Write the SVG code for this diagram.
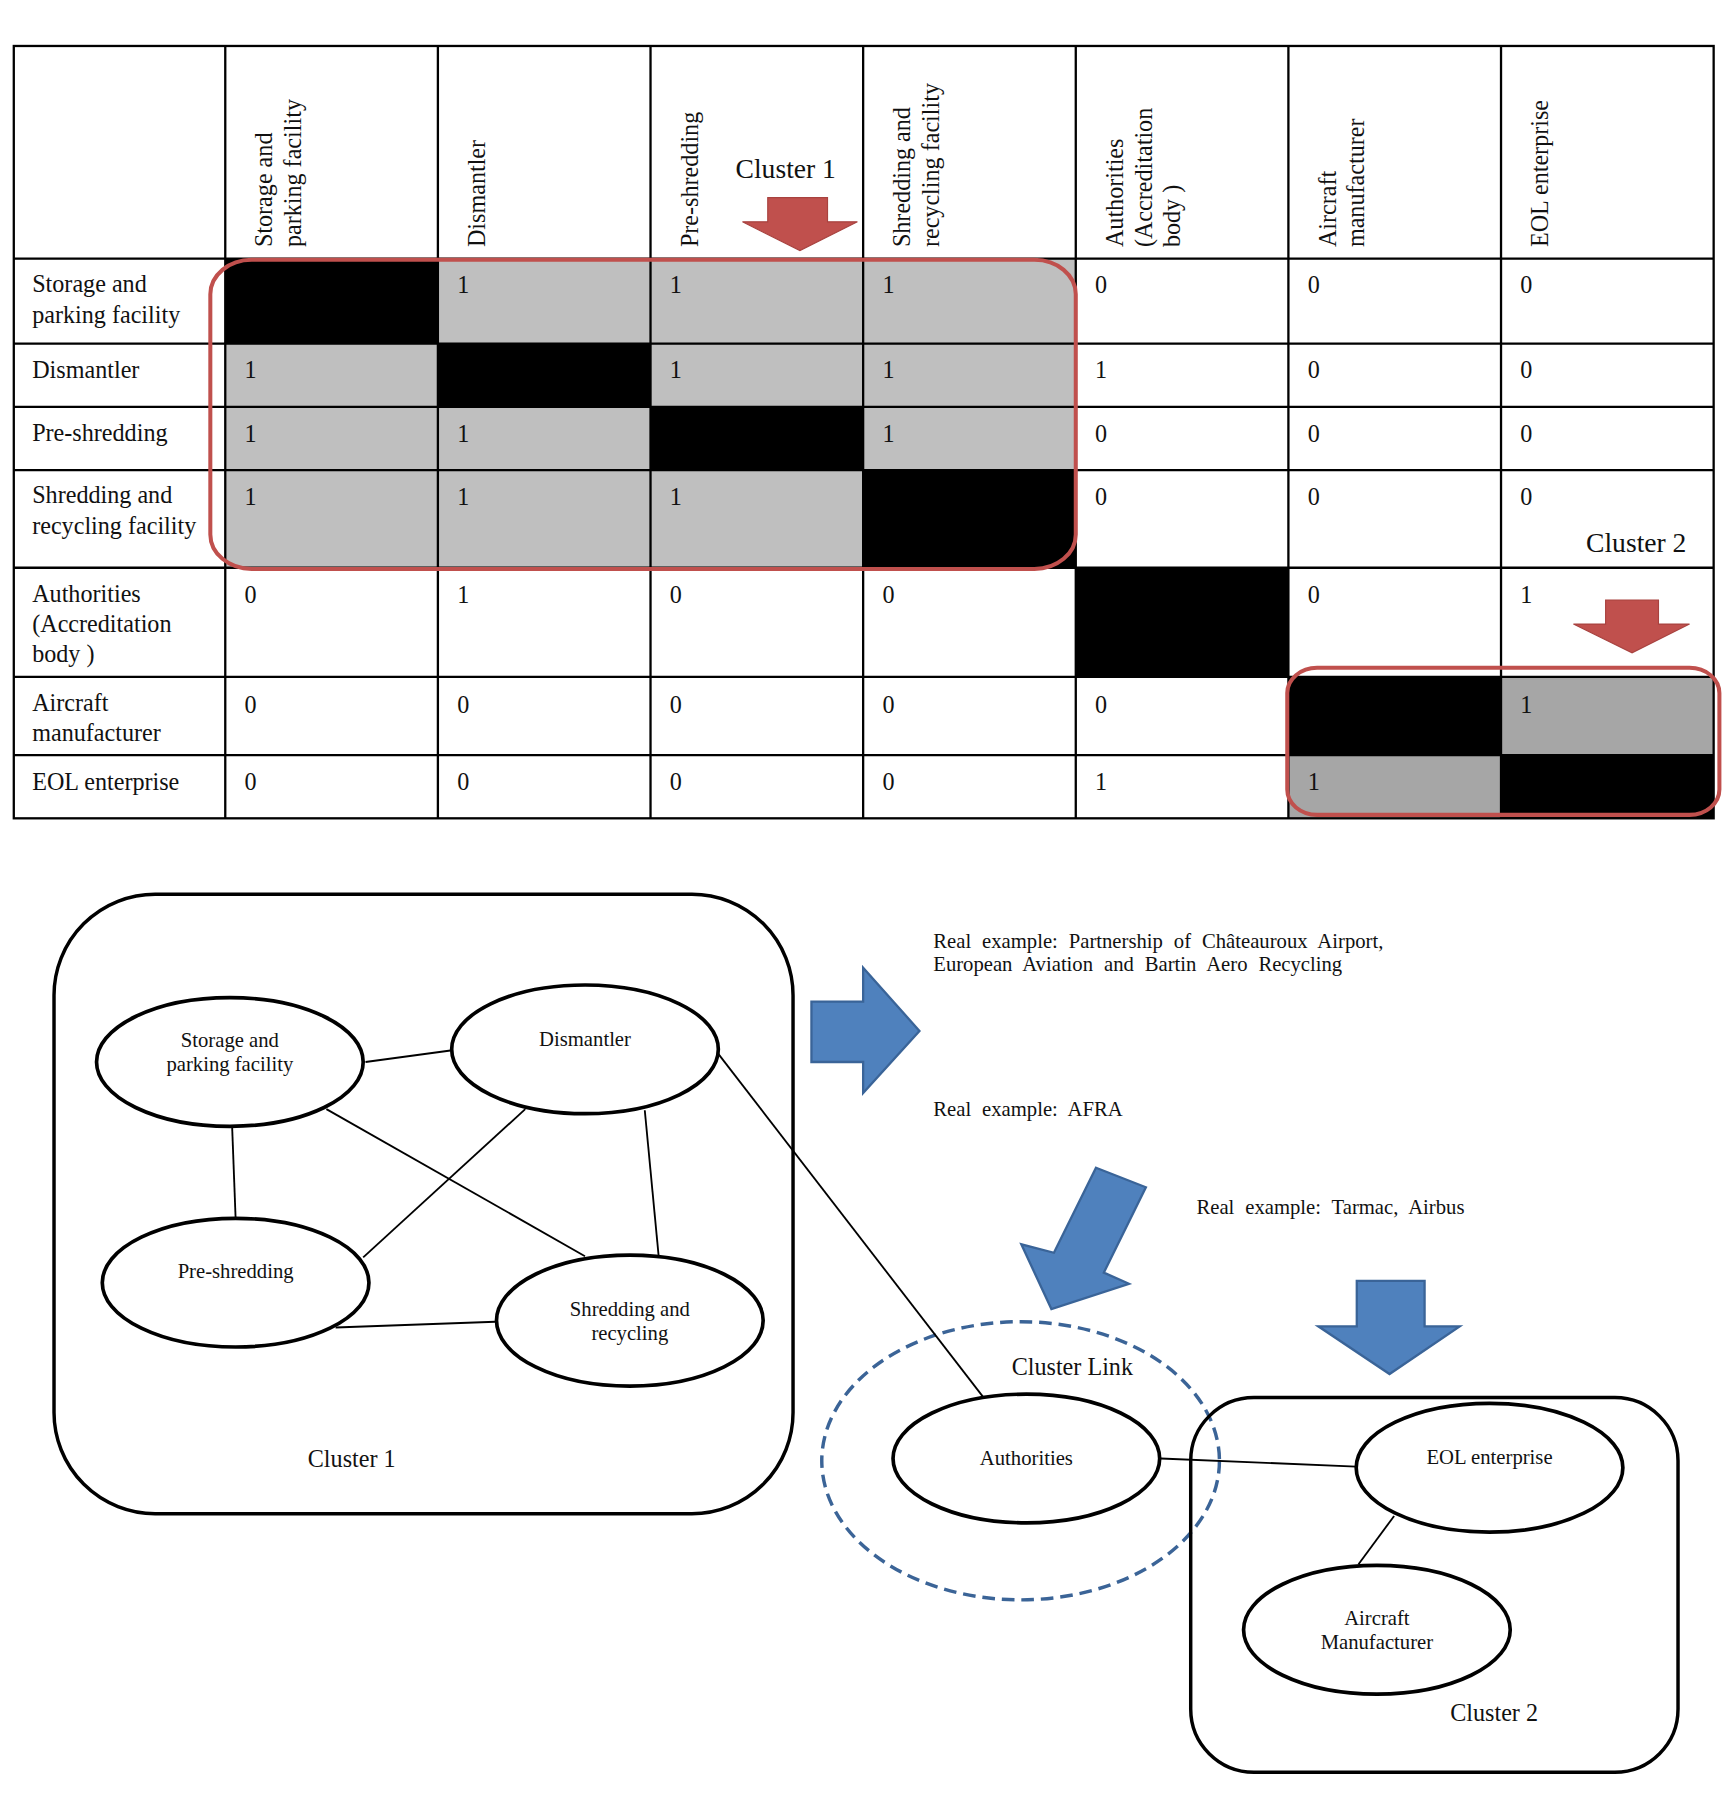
<svg xmlns="http://www.w3.org/2000/svg" width="1724" height="1802" viewBox="0 0 1724 1802">
<style>
text{font-family:"Liberation Serif","Times New Roman",serif;fill:#111;}
.t{font-size:21px;}
.n{font-size:21px;text-anchor:middle;}
.cl{font-size:24px;}
.nd{font-size:18px;text-anchor:middle;}
.lb{font-size:21px;text-anchor:middle;}
.ex{font-size:18px;word-spacing:5px;}
.grid{stroke:#000;stroke-width:2;fill:none;}
.blk{fill:#000;}
.redbox{fill:none;stroke:#c0504d;stroke-width:3.5;}
.redarrow{fill:#c0504d;stroke:#a8423f;stroke-width:1;}
.bluearrow{fill:#4f81bd;stroke:#3a6498;stroke-width:2;}
.ell{fill:#fff;stroke:#000;stroke-width:3.2;}
.box{fill:none;stroke:#000;stroke-width:3;}
.edge{stroke:#000;stroke-width:1.6;fill:none;}
</style>
<rect x="0" y="0" width="1724" height="1802" fill="#fff"/>
<g transform="scale(1.14933)">
<g id="matrix">
<rect x="196" y="225" width="740" height="269" fill="#bfbfbf"/>
<rect x="1121" y="589" width="370" height="123" fill="#a6a6a6"/>
<rect class="blk" x="196" y="225" width="185" height="74"/>
<rect class="blk" x="381" y="299" width="185" height="55"/>
<rect class="blk" x="566" y="354" width="185" height="55"/>
<rect class="blk" x="751" y="409" width="185" height="85"/>
<rect class="blk" x="936" y="494" width="185" height="95"/>
<rect class="blk" x="1121" y="589" width="185" height="68"/>
<rect class="blk" x="1306" y="657" width="185" height="55"/>
<g class="grid">
<rect x="12" y="40" width="1479" height="672"/>
<path d="M196 40V712M381 40V712M566 40V712M751 40V712M936 40V712M1121 40V712M1306 40V712"/>
<path d="M12 225H1491M12 299H1491M12 354H1491M12 409H1491M12 494H1491M12 589H1491M12 657H1491"/>
</g>
<g class="t">
<text x="28" y="254">Storage and</text>
<text x="28" y="281">parking facility</text>
<text x="28" y="329">Dismantler</text>
<text x="28" y="384">Pre-shredding</text>
<text x="28" y="438">Shredding and</text>
<text x="28" y="465">recycling facility</text>
<text x="28" y="524">Authorities</text>
<text x="28" y="550">(Accreditation</text>
<text x="28" y="576">body )</text>
<text x="28" y="619">Aircraft</text>
<text x="28" y="645">manufacturer</text>
<text x="28" y="687">EOL enterprise</text>
</g>
<g class="t">
<text transform="translate(237,215) rotate(-90)">Storage and</text>
<text transform="translate(262,215) rotate(-90)">parking facility</text>
<text transform="translate(422,215) rotate(-90)">Dismantler</text>
<text transform="translate(607,215) rotate(-90)">Pre-shredding</text>
<text transform="translate(792,215) rotate(-90)">Shredding and</text>
<text transform="translate(817,215) rotate(-90)">recycling facility</text>
<text transform="translate(977,215) rotate(-90)">Authorities</text>
<text transform="translate(1002,215) rotate(-90)">(Accreditation</text>
<text transform="translate(1027,215) rotate(-90)">body )</text>
<text transform="translate(1162,215) rotate(-90)">Aircraft</text>
<text transform="translate(1187,215) rotate(-90)">manufacturer</text>
<text transform="translate(1347,215) rotate(-90)">EOL enterprise</text>
</g>
<g class="n">
<text x="403" y="255">1</text><text x="588" y="255">1</text><text x="773" y="255">1</text><text x="958" y="255">0</text><text x="1143" y="255">0</text><text x="1328" y="255">0</text>
<text x="218" y="329">1</text><text x="588" y="329">1</text><text x="773" y="329">1</text><text x="958" y="329">1</text><text x="1143" y="329">0</text><text x="1328" y="329">0</text>
<text x="218" y="385">1</text><text x="403" y="385">1</text><text x="773" y="385">1</text><text x="958" y="385">0</text><text x="1143" y="385">0</text><text x="1328" y="385">0</text>
<text x="218" y="439">1</text><text x="403" y="439">1</text><text x="588" y="439">1</text><text x="958" y="439">0</text><text x="1143" y="439">0</text><text x="1328" y="439">0</text>
<text x="218" y="525">0</text><text x="403" y="525">1</text><text x="588" y="525">0</text><text x="773" y="525">0</text><text x="1143" y="525">0</text><text x="1328" y="525">1</text>
<text x="218" y="620">0</text><text x="403" y="620">0</text><text x="588" y="620">0</text><text x="773" y="620">0</text><text x="958" y="620">0</text><text x="1328" y="620">1</text>
<text x="218" y="687">0</text><text x="403" y="687">0</text><text x="588" y="687">0</text><text x="773" y="687">0</text><text x="958" y="687">1</text><text x="1143" y="687">1</text>
</g>
<rect class="redbox" x="183" y="226" width="753" height="269" rx="36" ry="30"/>
<rect class="redbox" x="1120" y="581" width="376" height="128" rx="26" ry="22"/>
<text class="cl" x="640" y="155">Cluster 1</text>
<text class="cl" x="1380" y="480">Cluster 2</text>
<polygon class="redarrow" points="668,172 720,172 720,193 746,193 696,218 646,193 668,193"/>
<polygon class="redarrow" points="1397,522 1443,522 1443,543 1470,543 1420,568 1369,543 1397,543"/>
</g>
<g id="cluster1">
<rect class="box" x="47" y="778" width="643" height="539" rx="88" ry="88"/>
<text class="lb" x="306" y="1276">Cluster 1</text>
</g>
<g id="cluster-link">
<ellipse cx="888" cy="1271" rx="173" ry="121" fill="none" stroke="#3b6497" stroke-width="3" stroke-dasharray="11,6"/>
<text class="lb" x="933" y="1196">Cluster Link</text>
</g>
<g id="cluster2">
<rect class="box" x="1036" y="1216" width="424" height="326" rx="55" ry="55"/>
<text class="lb" x="1300" y="1497">Cluster 2</text>
</g>
<g id="connectors">
<line class="edge" x1="318" y1="924" x2="392" y2="914"/>
<line class="edge" x1="202" y1="981" x2="205" y2="1060"/>
<line class="edge" x1="284" y1="965" x2="509" y2="1093"/>
<line class="edge" x1="457" y1="965" x2="316" y2="1094"/>
<line class="edge" x1="561" y1="966" x2="573" y2="1092"/>
<line class="edge" x1="292" y1="1155" x2="431" y2="1150"/>
<line class="edge" x1="625" y1="917" x2="855" y2="1215"/>
<line class="edge" x1="1010" y1="1269" x2="1180" y2="1276"/>
<line class="edge" x1="1213" y1="1319" x2="1182" y2="1361"/>
</g>
<g id="node-storage">
<ellipse class="ell" cx="200" cy="924" rx="116" ry="56"/>
<text class="nd" x="200" y="911">Storage and</text>
<text class="nd" x="200" y="932">parking facility</text>
</g>
<g id="node-dismantler">
<ellipse class="ell" cx="509" cy="913" rx="116" ry="56"/>
<text class="nd" x="509" y="910">Dismantler</text>
</g>
<g id="node-preshredding">
<ellipse class="ell" cx="205" cy="1116" rx="116" ry="56"/>
<text class="nd" x="205" y="1112">Pre-shredding</text>
</g>
<g id="node-shredding">
<ellipse class="ell" cx="548" cy="1149" rx="116" ry="57"/>
<text class="nd" x="548" y="1145">Shredding and</text>
<text class="nd" x="548" y="1166">recycling</text>
</g>
<g id="node-authorities">
<ellipse class="ell" cx="893" cy="1269" rx="116" ry="56"/>
<text class="nd" x="893" y="1275">Authorities</text>
</g>
<g id="node-eol">
<ellipse class="ell" cx="1296" cy="1277" rx="116" ry="56"/>
<text class="nd" x="1296" y="1274">EOL enterprise</text>
</g>
<g id="node-aircraft">
<ellipse class="ell" cx="1198" cy="1418" rx="116" ry="56"/>
<text class="nd" x="1198" y="1414">Aircraft</text>
<text class="nd" x="1198" y="1435">Manufacturer</text>
</g>
<g id="annotations">
<polygon class="bluearrow" points="706,871.5 751,871.5 751,842 800,897 751,951 751,924 706,924"/>
<polygon class="bluearrow" points="953.6,1016 997,1033 960.4,1107.3 982.3,1117 914.8,1139 888.6,1082.6 917,1090"/>
<polygon class="bluearrow" points="1180.5,1114.5 1239.5,1114.5 1239.5,1154 1270,1154 1209,1195.5 1147,1154 1180.5,1154"/>
<text class="ex" x="812" y="825">Real example: Partnership of Châteauroux Airport,</text>
<text class="ex" x="812" y="845">European Aviation and Bartin Aero Recycling</text>
<text class="ex" x="812" y="971">Real example: AFRA</text>
<text class="ex" x="1041" y="1056">Real example: Tarmac, Airbus</text>
</g>
</g>
</svg>
